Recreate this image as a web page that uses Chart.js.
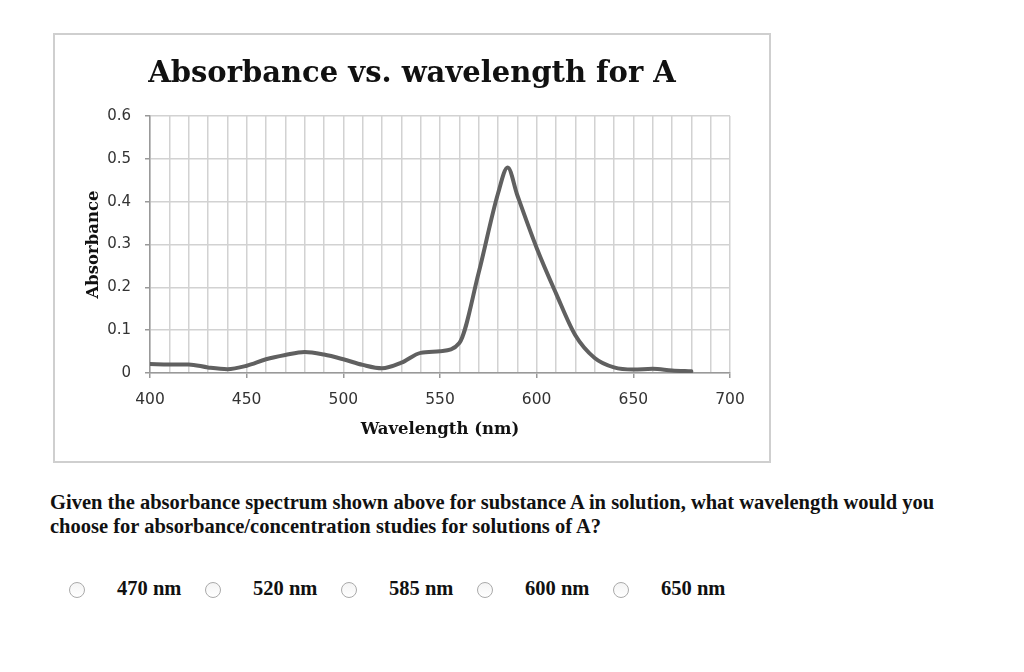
<!DOCTYPE html>
<html>
<head>
<meta charset="utf-8">
<script src="https://cdn.jsdelivr.net/npm/chart.js@4"></script>
<style>
  body { margin: 0; background: #fff; width: 1024px; height: 672px; position: relative; overflow: hidden; }
  #box { position: absolute; left: 53px; top: 33px; width: 714px; height: 426px; border: 2px solid #cfcfcf; }
  #box canvas { position: absolute; left: 0; top: 0; }
  .q { position: absolute; left: 50px; top: 490px; font: bold 20.5px "Liberation Serif", serif; line-height: 24px; color: #111; white-space: nowrap; }
  .opt { position: absolute; top: 577px; font: bold 20.5px "Liberation Serif", serif; color: #111; }
  .radio { position: absolute; top: 582px; width: 16px; height: 16px; border: 1px solid #aaa; border-radius: 50%; box-sizing: border-box; background: linear-gradient(#f4f4f4, #fff); }
</style>
</head>
<body>
<div id="box"><canvas id="chart" width="714" height="426"></canvas></div>
<div class="q">Given the absorbance spectrum shown above for substance A in solution, what wavelength would you<br>choose for absorbance/concentration studies for solutions of A?</div>
<div id="opts"></div>
<script>
// spectrum
const wavelengths = [400, 410, 420, 430, 440, 450, 460, 470, 480, 490, 500, 510, 520, 530, 540, 550, 560, 570, 580, 585, 590, 600, 610, 620, 630, 640, 650, 660, 670, 680];
const absorbance = [0.021, 0.020, 0.020, 0.013, 0.009, 0.017, 0.032, 0.042, 0.049, 0.043, 0.032, 0.019, 0.011, 0.024, 0.047, 0.051, 0.070, 0.234, 0.419, 0.480, 0.415, 0.292, 0.186, 0.088, 0.035, 0.013, 0.008, 0.010, 0.006, 0.004];
const choices = ['470 nm', '520 nm', '585 nm', '600 nm', '650 nm'];

// answer options
const opts = document.getElementById('opts');
choices.forEach((c, i) => {
  const r = document.createElement('div');
  r.className = 'radio';
  r.style.left = (69 + i * 136) + 'px';
  opts.appendChild(r);
  const t = document.createElement('div');
  t.className = 'opt';
  t.style.left = (117 + i * 136) + 'px';
  t.textContent = c;
  opts.appendChild(t);
});

const points = wavelengths.map((w, i) => ({ x: w, y: absorbance[i] }));
const gridCol = '#d2d2d2';

// center the title over the whole canvas, not just the padded area
const fullWidthTitle = {
  id: 'fullWidthTitle',
  afterLayout(chart) {
    const t = chart.titleBlock;
    if (t) { t.left = 0; t.right = chart.width; t.width = chart.width; }
  }
};

new Chart(document.getElementById('chart'), {
  type: 'line',
  data: {
    datasets: [{
      data: points,
      borderColor: '#606060',
      borderWidth: 4,
      pointRadius: 0,
      cubicInterpolationMode: 'monotone',
      borderCapStyle: 'round'
    }]
  },
  plugins: [fullWidthTitle],
  options: {
    responsive: false,
    animation: false,
    layout: { padding: { left: 0, right: 39, top: 0, bottom: 0 } },
    plugins: {
      legend: { display: false },
      tooltip: { enabled: false },
      title: {
        display: true,
        text: 'Absorbance vs. wavelength for A',
        color: '#111',
        font: { family: '"DejaVu Serif"', size: 29, weight: 'bold' },
        padding: { top: 21.6, bottom: 24.6 }
      }
    },
    scales: {
      x: {
        type: 'linear',
        min: 400,
        max: 700,
        afterFit: s => { s.height = 88; },
        ticks: {
          stepSize: 10,
          autoSkip: false,
          maxRotation: 0,
          padding: 13,
          color: '#333',
          font: { family: '"DejaVu Sans"', size: 15.5 },
          callback: v => (v % 50 === 0 ? String(v) : '')
        },
        grid: {
          color: gridCol,
          lineWidth: 1.5,
          tickLength: 5,
          tickColor: c => (c.tick && c.tick.value % 50 === 0 ? '#999' : 'rgba(0,0,0,0)')
        },
        border: { color: '#999', width: 1.5 },
        title: {
          display: true,
          text: 'Wavelength (nm)',
          color: '#111',
          font: { family: '"DejaVu Serif"', size: 16.5, weight: 'bold' },
          padding: { top: 0, bottom: 21 }
        }
      },
      y: {
        min: 0,
        max: 0.6,
        afterFit: s => { s.width = 95; },
        ticks: {
          stepSize: 0.1,
          padding: 14,
          color: '#333',
          font: { family: '"DejaVu Sans"', size: 15 },
          callback: v => (v === 0 ? '0' : v.toFixed(1))
        },
        grid: { color: gridCol, lineWidth: 1.5, tickLength: 5, tickColor: '#999' },
        border: { color: '#999', width: 1.5 },
        title: {
          display: true,
          text: 'Absorbance',
          color: '#111',
          font: { family: '"DejaVu Serif"', size: 16.5, weight: 'bold' },
          padding: { top: 29, bottom: 0 }
        }
      }
    }
  }
});
</script>
</body>
</html>
